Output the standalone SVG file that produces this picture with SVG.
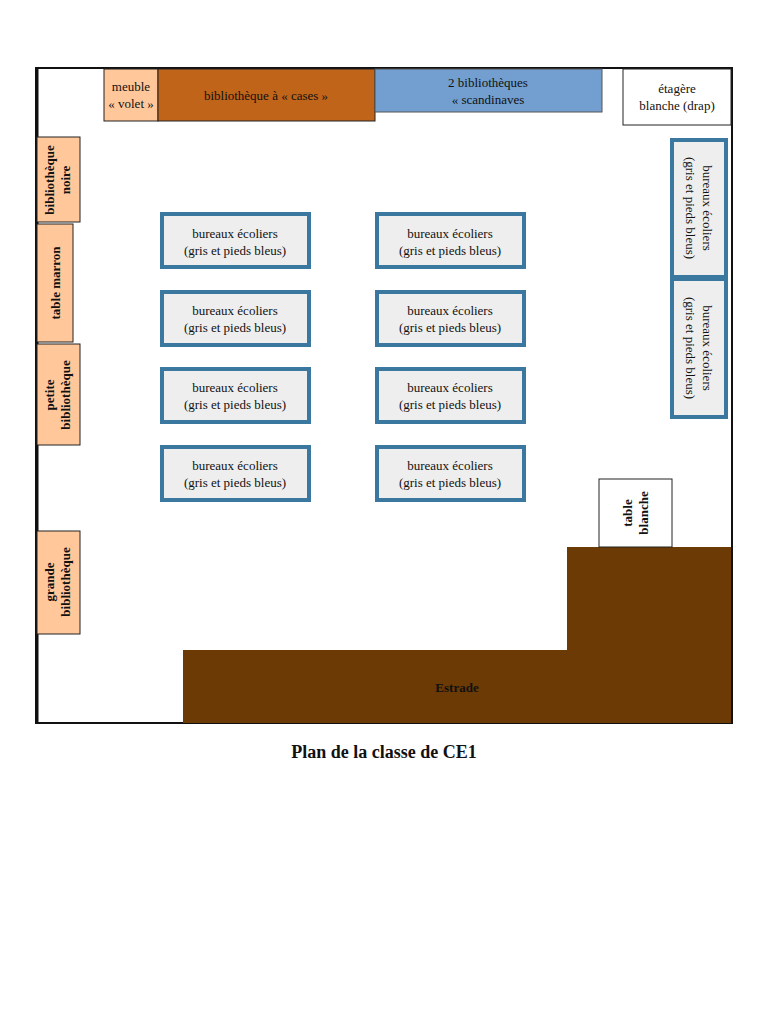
<svg xmlns="http://www.w3.org/2000/svg" width="768" height="1024" viewBox="0 0 768 1024">
<style>
text{font-family:"Liberation Serif","DejaVu Serif",serif;font-size:13px;fill:#111;text-anchor:middle}
.b{font-weight:bold}
.desk{fill:#eeeeee;stroke:#3a78a0;stroke-width:4}
.wood{fill:#ffc79a;stroke:#222;stroke-width:1}
.w{fill:#fff;stroke:#222;stroke-width:1}
</style>
<rect width="768" height="1024" fill="#fff"/>
<g id="room"><rect x="36" y="68" width="696" height="655" fill="#fff" stroke="#111" stroke-width="2"/><line x1="37" y1="68" x2="37" y2="723" stroke="#111" stroke-width="3"/></g>
<g id="estrade"><polygon points="183,650 567,650 567,547 731,547 731,723 183,723" fill="#6b3a05"/><text x="457" y="692" class="b">Estrade</text></g>
<g id="meuble"><rect class="wood" x="104" y="69" width="54" height="52"/><text x="131" y="91">meuble</text><text x="131" y="108">« volet »</text></g>
<g id="cases"><rect x="158" y="69" width="217" height="52" fill="#c0641a" stroke="#222"/><text x="266" y="100">bibliothèque à « cases »</text></g>
<g id="scand"><rect x="375" y="69" width="227" height="43" fill="#729fcf" stroke="#555"/><text x="488" y="87">2 bibliothèques</text><text x="488" y="104">« scandinaves</text></g>
<g id="etagere"><rect class="w" x="623" y="69" width="108" height="56"/><text x="677" y="93">étagère</text><text x="677" y="110">blanche (drap)</text></g>
<g id="bnoire"><rect class="wood" x="37" y="137" width="43" height="85"/><text class="b" transform="translate(58,180) rotate(-90)"><tspan x="0" y="-4">bibliothèque</tspan><tspan x="0" y="12">noire</tspan></text></g>
<g id="tmarron"><rect class="wood" x="37" y="224" width="36" height="118"/><text class="b" transform="translate(60,283) rotate(-90)">table marron</text></g>
<g id="pbib"><rect class="wood" x="37" y="344" width="43" height="101"/><text class="b" transform="translate(58,395) rotate(-90)"><tspan x="0" y="-4">petite</tspan><tspan x="0" y="12">bibliothèque</tspan></text></g>
<g id="gbib"><rect class="wood" x="37" y="531" width="43" height="103"/><text class="b" transform="translate(58,582) rotate(-90)"><tspan x="0" y="-4">grande</tspan><tspan x="0" y="12">bibliothèque</tspan></text></g>
<g id="tblanche"><rect class="w" x="599" y="479" width="73" height="68"/><text class="b" transform="translate(636,513) rotate(-90)"><tspan x="0" y="-4">table</tspan><tspan x="0" y="12">blanche</tspan></text></g>
<g id="desks">
<g id="d1"><rect class="desk" x="162" y="214" width="147" height="53"/><text x="235" y="238">bureaux écoliers</text><text x="235" y="255">(gris et pieds bleus)</text></g>
<g id="d2"><rect class="desk" x="377" y="214" width="147" height="53"/><text x="450" y="238">bureaux écoliers</text><text x="450" y="255">(gris et pieds bleus)</text></g>
<g id="d3"><rect class="desk" x="162" y="292" width="147" height="53"/><text x="235" y="315">bureaux écoliers</text><text x="235" y="332">(gris et pieds bleus)</text></g>
<g id="d4"><rect class="desk" x="377" y="292" width="147" height="53"/><text x="450" y="315">bureaux écoliers</text><text x="450" y="332">(gris et pieds bleus)</text></g>
<g id="d5"><rect class="desk" x="162" y="369" width="147" height="53"/><text x="235" y="392">bureaux écoliers</text><text x="235" y="409">(gris et pieds bleus)</text></g>
<g id="d6"><rect class="desk" x="377" y="369" width="147" height="53"/><text x="450" y="392">bureaux écoliers</text><text x="450" y="409">(gris et pieds bleus)</text></g>
<g id="d7"><rect class="desk" x="162" y="447" width="147" height="53"/><text x="235" y="470">bureaux écoliers</text><text x="235" y="487">(gris et pieds bleus)</text></g>
<g id="d8"><rect class="desk" x="377" y="447" width="147" height="53"/><text x="450" y="470">bureaux écoliers</text><text x="450" y="487">(gris et pieds bleus)</text></g>
<g id="d9"><rect class="desk" x="672" y="140" width="54" height="137"/><text transform="translate(698,208) rotate(90)"><tspan x="0" y="-5">bureaux écoliers</tspan><tspan x="0" y="12">(gris et pieds bleus)</tspan></text></g>
<g id="d10"><rect class="desk" x="672" y="279" width="54" height="138"/><text transform="translate(698,348) rotate(90)"><tspan x="0" y="-5">bureaux écoliers</tspan><tspan x="0" y="12">(gris et pieds bleus)</tspan></text></g>
</g>
<g id="connectors"/>
<text x="384" y="758" class="b" style="font-size:18px">Plan de la classe de CE1</text>
</svg>
